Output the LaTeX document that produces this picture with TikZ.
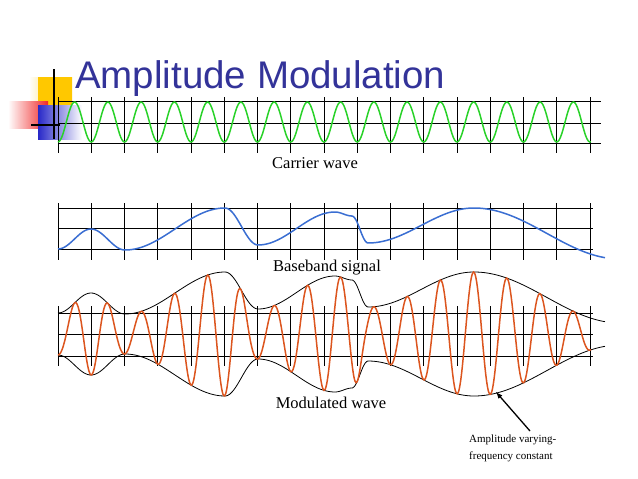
\documentclass[tikz,border=0pt]{standalone}
\usepackage{fontspec}
\setmainfont{Liberation Serif}
\newfontfamily\titlefont{Liberation Sans}
\definecolor{titleblue}{RGB}{51,51,153}
\definecolor{decyel}{RGB}{255,200,0}
\definecolor{decred}{RGB}{240,40,40}
\definecolor{decblue}{RGB}{40,40,200}
\definecolor{carrgreen}{RGB}{40,210,40}
\definecolor{basblue}{RGB}{58,110,210}
\definecolor{modorange}{RGB}{220,85,30}
\begin{document}
\begin{tikzpicture}[x=1pt,y=-1pt,
  declare function={
    sg(\t,\a,\b,\c,\d)=\c+(\d-\c)*(1-cos((180/(\b-\a))*(\t-\a)))/2;
    dd(\t)= \t<91 ? sg(\t,58,91,0,20) : (\t<125 ? sg(\t,91,125,20,-1) : (\t<225 ? sg(\t,125,225,-1,41) : (\t<258 ? sg(\t,225,258,41,4) : (\t<335 ? sg(\t,258,335,4,37) : (\t<352 ? sg(\t,335,352,37,33) : (\t<368 ? sg(\t,352,368,33,6) : (\t<474 ? sg(\t,368,474,6,41) : sg(\t,474,620,41,-10))))))));
    ph(\t)=cos(10.8271*(\t-58));
  },
  gl/.style={black,line width=0.9pt},
  lbl/.style={font=\fontsize{16.5}{18}\selectfont}]
\useasboundingbox (0,0) rectangle (638,479);
% decoration
\shade[left color=white,right color=decyel] (29,77) rectangle (72,105);
\fill[decyel] (38,77) rectangle (72,105);
\shade[left color=white,right color=decred] (8,101) rectangle (48,128);
\shade[right color=white,left color=decblue] (38,105) rectangle (82,139);
\draw[black,line width=1.2pt] (54,69) -- (54,139);
\draw[black,line width=1.2pt] (31,125) -- (60,125);
\node[anchor=base west,text=titleblue,inner sep=0] (title) at (75,88) {\titlefont\fontsize{38.5}{40}\selectfont Amplitude Modulation};
% grids
\foreach \y in {101,123,143} \draw[gl] (58,\y) -- (601,\y);
\foreach \k in {0,...,16} \draw[gl] (58+33.25*\k,97) -- (58+33.25*\k,153);
\foreach \y in {208,228,249} \draw[gl] (58,\y) -- (593,\y);
\foreach \k in {0,...,16} \draw[gl] (58+33.25*\k,203) -- (58+33.25*\k,260);
\foreach \y in {313,334,356} \draw[gl] (58,\y) -- (593,\y);
\foreach \k in {0,...,16} \draw[gl] (58+33.25*\k,306) -- (58+33.25*\k,366);
% carrier
\draw[line width=1.5pt,carrgreen] plot[domain=58:591,samples=400,smooth] (\x,{122+20*ph(\x)});
% baseband
\draw[line width=1.5pt,basblue] plot[domain=58:605,samples=300,smooth] (\x,{249-dd(\x)});
% envelopes
\draw[black,line width=0.8pt] plot[domain=58:605,samples=300,smooth] (\x,{334-21-dd(\x)});
\draw[black,line width=0.8pt] plot[domain=58:605,samples=300,smooth] (\x,{334+21+dd(\x)});
% modulated
\draw[line width=1.5pt,modorange] plot[domain=58:591,samples=500,smooth] (\x,{334+(21+dd(\x))*ph(\x)});
% labels
\node[lbl] (cw) at (315,163) {Carrier wave};
\node[lbl] (bs) at (327,268) {Baseband signal};
\node[lbl] (mw) at (331,403) {Modulated wave};
\node[align=left,anchor=north west,inner sep=0,font=\fontsize{11}{17}\selectfont] (ann) at (469,435) {Amplitude varying-\\frequency constant};
\coordinate (tip) at (496,392);
\draw[-latex,line width=1.3pt] (530,431) -- (tip);
\end{tikzpicture}
\end{document}
